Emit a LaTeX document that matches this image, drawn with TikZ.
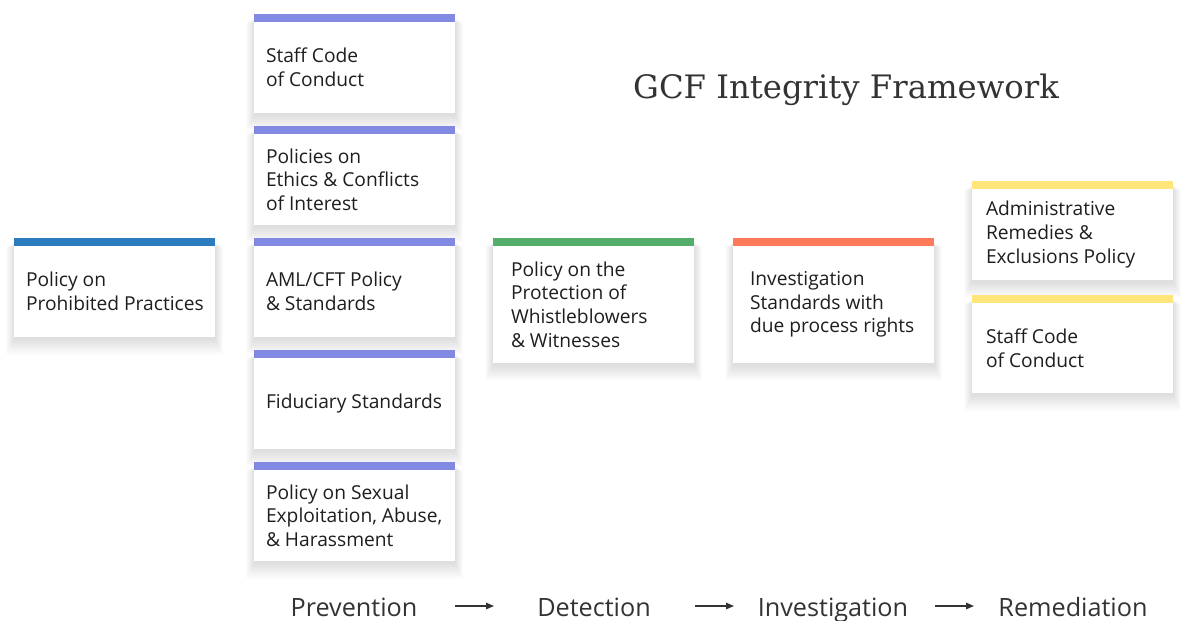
\documentclass[tikz,border=0pt]{standalone}
\usepackage{fontspec}
\setmainfont{Open Sans}
\newfontfamily\titlefont{DejaVu Serif}
\usetikzlibrary{arrows.meta}
\definecolor{cblue}{HTML}{2B7BBF}
\definecolor{cpurple}{HTML}{8289E2}
\definecolor{cgreen}{HTML}{52AE68}
\definecolor{corange}{HTML}{FF7A5A}
\definecolor{cyellow}{HTML}{FFE57A}
\definecolor{textdark}{HTML}{1E1E1E}
\definecolor{titlegray}{HTML}{333333}
\tikzset{
  cardbox/.style={rectangle, fill=white, minimum width=201pt, inner sep=0pt},
  cardtext/.style={anchor=west, align=left, inner sep=0pt, text=textdark,
    font=\fontsize{19.2}{23.7}\selectfont},
  stage/.style={anchor=base, inner sep=0pt, text=titlegray, font=\fontsize{25.2}{30}\selectfont},
  flow/.style={draw=titlegray, line width=1.4pt, -{Triangle[length=8pt,width=6.5pt]}},
  shadowlayer/.style={fill=black, fill opacity=0.008}
}
% name, xleft, bartop, bottom, color, text-offset, text
\newcommand{\mycard}[7]{%
  \pgfmathsetmacro{\mcx}{#2+100.5}%
  \pgfmathsetmacro{\mcy}{(#3+8+#4)/2}%
  \pgfmathsetmacro{\mch}{#4-#3-8}%
  \foreach \k in {1,...,16}{%
    \fill[shadowlayer] (#2-0.5*\k,#3+4+0.3*\k) rectangle (#2+201+0.5*\k,#4+2+1.0*\k);
  }
  \node[cardbox, minimum height=\mch pt] (#1) at (\mcx,\mcy) {};
  \fill[#5] (#1.north west) rectangle ([yshift=8pt]#1.north east);
  \node[cardtext] (#1-t) at ([xshift=#6pt]#1.west) {#7};
}
\begin{document}
\begin{tikzpicture}[x=1pt,y=-1pt]
\useasboundingbox (0,0) rectangle (1200,621);
\fill[white] (0,0) rectangle (1200,621);

\node[anchor=base west, inner sep=0pt, text=titlegray, font=\titlefont\fontsize{32.3}{38}\selectfont] (title) at (633,98) {GCF Integrity Framework};

\mycard{pp}{14}{238}{337}{cblue}{12}{Policy on\\Prohibited Practices}

\mycard{scc}{254}{14}{113}{cpurple}{12}{Staff Code\\of Conduct}
\mycard{eth}{254}{126}{225}{cpurple}{12}{Policies on\\Ethics \& Conflicts\\of Interest}
\mycard{aml}{254}{238}{337}{cpurple}{12}{AML/CFT Policy\\\& Standards}
\mycard{fid}{254}{350}{449}{cpurple}{12}{Fiduciary Standards}
\mycard{sea}{254}{462}{561}{cpurple}{12}{Policy on Sexual\\Exploitation, Abuse,\\\& Harassment}

\mycard{wb}{493}{238}{363}{cgreen}{18}{Policy on the\\Protection of\\Whistleblowers\\\& Witnesses}
\mycard{inv}{733}{238}{363}{corange}{17}{Investigation\\Standards with\\due process rights}

\mycard{arp}{972}{181}{280}{cyellow}{14}{Administrative\\Remedies \&\\Exclusions Policy}
\mycard{scc2}{972}{295}{393}{cyellow}{14}{Staff Code\\of Conduct}

\node[stage] (prev) at (354,616) {Prevention};
\node[stage] (det) at (594,616) {Detection};
\node[stage] (invs) at (833,616) {Investigation};
\node[stage] (rem) at (1073,616) {Remediation};

\coordinate (a1s) at (455,606); \coordinate (a1e) at (494,606);
\coordinate (a2s) at (695,606); \coordinate (a2e) at (734,606);
\coordinate (a3s) at (935,606); \coordinate (a3e) at (974,606);
\draw[flow] (a1s) -- (a1e);
\draw[flow] (a2s) -- (a2e);
\draw[flow] (a3s) -- (a3e);
\end{tikzpicture}
\end{document}
